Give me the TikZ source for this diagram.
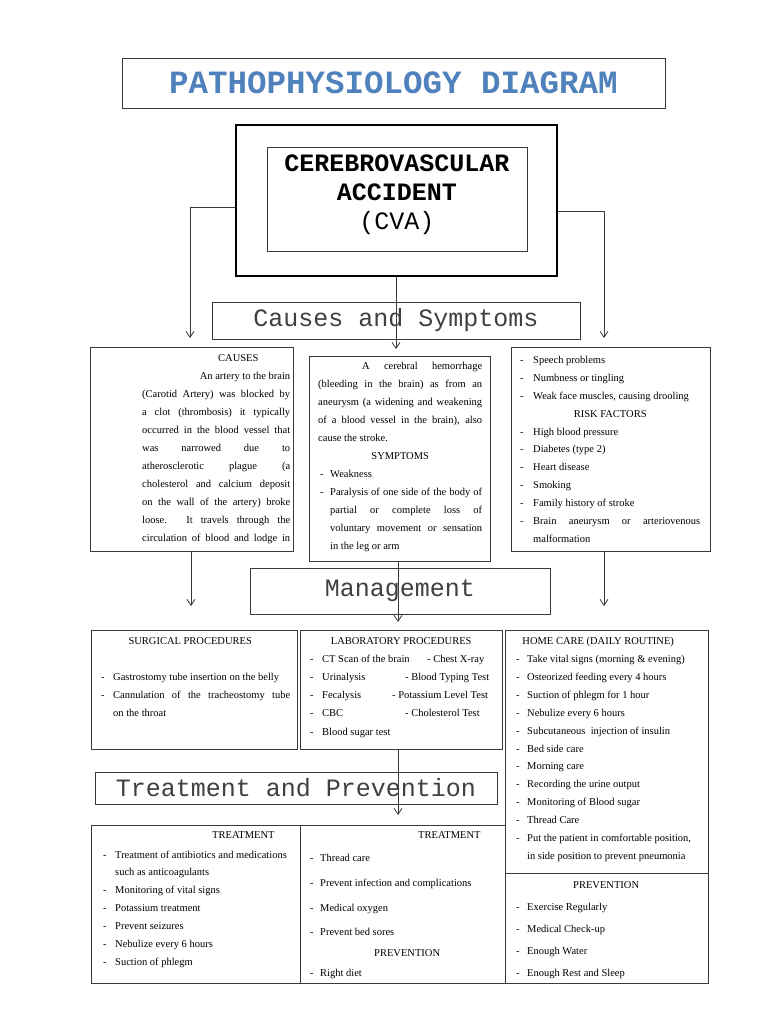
\documentclass[tikz,border=0pt]{standalone}
\usepackage{fontspec}
\setmainfont{Liberation Serif}
\newfontfamily\monof{Liberation Mono}
\usetikzlibrary{arrows.meta}
\definecolor{titleblue}{HTML}{4F81BD}
\definecolor{edgegray}{HTML}{3A3A3A}
\definecolor{headgray}{HTML}{404040}
\newcommand{\dsh}[1][12pt]{\makebox[#1][l]{-}}
\newcommand{\jst}[2]{\makebox[#1][s]{#2}}
\begin{document}
\begin{tikzpicture}[x=1pt,y=-1pt,
  box/.style={draw=edgegray, line width=0.9pt, inner sep=0pt},
  txt/.style={inner sep=0pt, anchor=north west, align=left, text=black},
  headtxt/.style={font=\monof\fontsize{25}{29}\selectfont, text=headgray},
  arr/.style={draw=edgegray, line width=0.8pt, -{Straight Barb[length=6pt,width=8pt]}}]
\useasboundingbox[fill=white] (0,0) rectangle (768,1024);

% title
\node[box, minimum width=543, minimum height=50, font=\monof\bfseries\fontsize{32.5}{36}\selectfont, text=titleblue] (title) at (393.5,83) {PATHOPHYSIOLOGY DIAGRAM};

% CVA
\node[draw=black, line width=2.5pt, inner sep=0pt, minimum width=321, minimum height=151] (cva) at (396.5,200.5) {};
\node[box, minimum width=260, minimum height=104] (cvain) at (397,199) {};
\node[inner sep=0pt, align=center, font=\monof\fontsize{25}{29}\selectfont] (cvatxt) at (397,195) {{\bfseries CEREBROVASCULAR}\\{\bfseries ACCIDENT}\\(CVA)};

% Causes and Symptoms header
\node[box, minimum width=368, minimum height=37, headtxt] (cshead) at (396,320.5) {Causes and Symptoms};

% three boxes
\node[box, minimum width=203, minimum height=204] (causes) at (191.5,449) {};
\node[box, minimum width=181, minimum height=205] (mid) at (399.5,458.5) {};
\node[box, minimum width=199, minimum height=204] (risk) at (610.5,449) {};

\node[txt, font=\fontsize{10.5}{18}\selectfont] (causestxt) at (142,354) {%
\hspace*{76pt}CAUSES\\
\makebox[148pt][r]{An artery to the brain}\\
\jst{148pt}{(Carotid Artery) was blocked by}\\
\jst{148pt}{a clot (thrombosis) it typically}\\
\jst{148pt}{occurred in the blood vessel that}\\
\jst{148pt}{was narrowed due to}\\
\jst{148pt}{atherosclerotic plague (a}\\
\jst{148pt}{cholesterol and calcium deposit}\\
\jst{148pt}{on the wall of the artery) broke}\\
\jst{148pt}{loose. It travels through the}\\
\jst{148pt}{circulation of blood and lodge in}};

\node[txt, font=\fontsize{10.5}{18}\selectfont] (midtxt) at (318,362) {%
\hspace*{44pt}\jst{120pt}{A cerebral hemorrhage}\\
\jst{164pt}{(bleeding in the brain) as from an}\\
\jst{164pt}{aneurysm (a widening and weakening}\\
\jst{164pt}{of a blood vessel in the brain), also}\\
cause the stroke.\\
\makebox[164pt][c]{SYMPTOMS}\\
\hspace*{2pt}\dsh[10pt]Weakness\\
\hspace*{2pt}\dsh[10pt]\jst{152pt}{Paralysis of one side of the body of}\\
\hspace*{12pt}\jst{152pt}{partial or complete loss of}\\
\hspace*{12pt}\jst{152pt}{voluntary movement or sensation}\\
\hspace*{12pt}in the leg or arm};

\node[txt, font=\fontsize{10.5}{17.9}\selectfont] (risktxt) at (520,356) {%
\dsh[13pt]Speech problems\\
\dsh[13pt]Numbness or tingling\\
\dsh[13pt]Weak face muscles, causing drooling\\
\makebox[180pt][c]{RISK FACTORS}\\
\dsh[13pt]High blood pressure\\
\dsh[13pt]Diabetes (type 2)\\
\dsh[13pt]Heart disease\\
\dsh[13pt]Smoking\\
\dsh[13pt]Family history of stroke\\
\dsh[13pt]\jst{167pt}{Brain aneurysm or arteriovenous}\\
\hspace*{13pt}malformation};

% Management header
\node[box, minimum width=300, minimum height=46, headtxt] (mgmt) at (400,591) {Management};

% management boxes
\node[box, minimum width=206, minimum height=119] (surg) at (194,689.5) {};
\node[box, minimum width=202, minimum height=119] (lab) at (401,689.5) {};
\node[box, minimum width=203, minimum height=243] (home) at (606.5,751.5) {};

\node[txt, font=\fontsize{10.5}{18}\selectfont] (surgtxt) at (101,637) {%
\makebox[178pt][c]{SURGICAL PROCEDURES}\\
\mbox{}\\
\dsh Gastrostomy tube insertion on the belly\\
\dsh\jst{177pt}{Cannulation of the tracheostomy tube}\\
\hspace*{12pt}on the throat};

\node[txt, font=\fontsize{10.5}{18.2}\selectfont] (labtxt) at (310,637) {%
\makebox[182pt][c]{LABORATORY PROCEDURES}\\
\makebox[117pt][l]{\dsh CT Scan of the brain}- Chest X-ray\\
\makebox[95pt][l]{\dsh Urinalysis}- Blood Typing Test\\
\makebox[82pt][l]{\dsh Fecalysis}- Potassium Level Test\\
\makebox[95pt][l]{\dsh CBC}- Cholesterol Test\\
\dsh Blood sugar test};

\node[txt, font=\fontsize{10.5}{17.92}\selectfont] (hometxt) at (516,637) {%
\makebox[164pt][c]{HOME CARE (DAILY ROUTINE)}\\
\dsh[11pt]Take vital signs (morning \& evening)\\
\dsh[11pt]Osteorized feeding every 4 hours\\
\dsh[11pt]Suction of phlegm for 1 hour\\
\dsh[11pt]Nebulize every 6 hours\\
\dsh[11pt]Subcutaneous\ \ injection of insulin\\
\dsh[11pt]Bed side care\\
\dsh[11pt]Morning care\\
\dsh[11pt]Recording the urine output\\
\dsh[11pt]Monitoring of Blood sugar\\
\dsh[11pt]Thread Care\\
\dsh[11pt]Put the patient in comfortable position,\\
\hspace*{11pt}in side position to prevent pneumonia};

% Treatment header
\node[box, minimum width=402, minimum height=32, headtxt] (treathead) at (296,788) {Treatment and Prevention};

% bottom boxes
\node[box, minimum width=209, minimum height=158] (treatl) at (195.5,904) {};
\node[box, minimum width=205, minimum height=158] (treatm) at (402.5,904) {};
\node[box, minimum width=203, minimum height=110] (prev) at (606.5,928) {};

\node[txt, font=\fontsize{10.5}{17.9}\selectfont] (treatltxt) at (103,831) {%
\hspace*{109pt}TREATMENT\\[2pt]
\dsh Treatment of antibiotics and medications\\
\hspace*{12pt}such as anticoagulants\\
\dsh Monitoring of vital signs\\
\dsh Potassium treatment\\
\dsh Prevent seizures\\
\dsh Nebulize every 6 hours\\
\dsh Suction of phlegm};

\node[txt, font=\fontsize{10.5}{20}\selectfont] (treatmtxt) at (310,831) {%
\hspace*{108pt}TREATMENT\\[3pt]
\dsh[10pt]Thread care\\[5pt]
\dsh[10pt]Prevent infection and complications\\[5pt]
\dsh[10pt]Medical oxygen\\[4pt]
\dsh[10pt]Prevent bed sores\\[1pt]
\hspace*{64pt}PREVENTION\\
\dsh[10pt]Right diet};

\node[txt, font=\fontsize{10.5}{22}\selectfont] (prevtxt) at (516,881) {%
\hspace*{57pt}PREVENTION\\
\dsh[11pt]Exercise Regularly\\
\dsh[11pt]Medical Check-up\\
\dsh[11pt]Enough Water\\
\dsh[11pt]Enough Rest and Sleep};

% helper coordinates for arrow ends
\coordinate (lx) at (190,338);
\coordinate (rx) at (604,338);
\coordinate (cx) at (396,349);
\coordinate (lm) at (191,606);
\coordinate (rm) at (604,606);
\coordinate (cm) at (398,622);
\coordinate (ct) at (398,815);

% connectors
\draw[arr] ([yshift=-6.5pt]cva.west) -| (lx);
\draw[arr] ([yshift=-10.5pt]cva.east) -| (rx);
\draw[arr] (cva.south -| cx) -- (cx);
\draw[arr] (causes.south -| lm) -- (lm);
\draw[arr] (risk.south -| rm) -- (rm);
\draw[arr] (mid.south -| cm) -- (cm);
\draw[arr] (lab.south -| ct) -- (ct);
\end{tikzpicture}
\end{document}
